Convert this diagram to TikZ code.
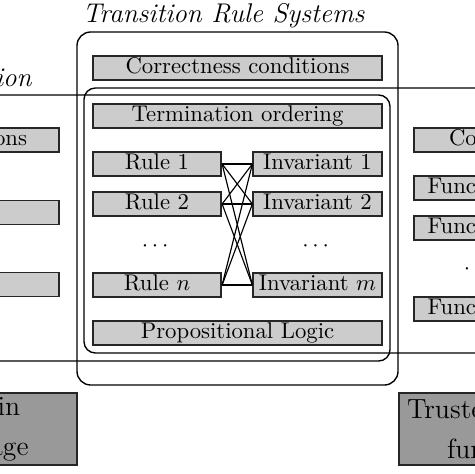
\documentclass[tikz,border=0pt]{standalone}
\usepackage{amsmath,amssymb}
\usepackage{xcolor}
\usepackage{tikz}
\usetikzlibrary{positioning}

\begin{document}
\begin{tikzpicture}[
  x=0.44pt, y=-0.44pt,
  frame/.style={line width=0.6pt, rounded corners=5pt},
  itembox/.style={rectangle, draw=black!85, line width=0.8pt, fill=gray!40, inner sep=0pt, minimum height=10.56pt, text height=7pt, text depth=2pt},
  widebox/.style={itembox, minimum width=127.2pt},
  halfbox/.style={itembox, minimum width=56.5pt},
  basebox/.style={rectangle, draw=black!85, line width=0.8pt, fill=gray!80, inner sep=0pt, minimum height=31.7pt, font=\fontsize{12.2}{17.6}\selectfont},
  heading/.style={inner sep=0pt, font=\fontsize{11.9}{14.3}\selectfont\itshape},
  link/.style={line width=0.5pt}
]
  \useasboundingbox (0,0) rectangle (474,474);
  \def\lx{157} \def\mx{237.5} \def\ix{317.5}

  \draw[frame, rounded corners=6pt] (77,32) rectangle (398,385);
  \draw[frame] (-30,95) rectangle (390,361);
  \draw[frame] (84,88) rectangle (504,353);

  \node[heading, anchor=base] (trs) at (223.5,23) {Transition Rule Systems};
  \node[heading, anchor=base east] (spec) at (32,87) {ion};

  \node[widebox] (corr) at (\mx,68) {Correctness conditions};
  \node[widebox] (term) at (\mx,116) {Termination ordering};
  \node[halfbox] (rule1) at (\lx,164) {Rule 1};
  \node[halfbox] (rule2) at (\lx,204) {Rule 2};
  \node (rdots) at (\lx,246) {$\cdots$};
  \node[halfbox] (rulen) at (\lx,285) {Rule $n$};
  \node[halfbox] (inv1) at (\ix,164) {Invariant 1};
  \node[halfbox] (inv2) at (\ix,204) {Invariant 2};
  \node (idots) at (\ix,246) {$\cdots$};
  \node[halfbox] (invm) at (\ix,285) {Invariant $m$};
  \node[widebox] (prop) at (\mx,333) {Propositional Logic};

  \draw[link] (rule1.east) -- (inv1.west);
  \draw[link] (rule1.east) -- (inv2.west);
  \draw[link] (rule1.east) -- (invm.west);
  \draw[link] (rule2.east) -- (inv1.west);
  \draw[link] (rule2.east) -- (inv2.west);
  \draw[link] (rule2.east) -- (invm.west);
  \draw[link] (rulen.east) -- (inv1.west);
  \draw[link] (rulen.east) -- (inv2.west);
  \draw[link] (rulen.east) -- (invm.west);

  \node[itembox, anchor=east, minimum width=42.7pt] (left1) at (60,140) {ons};
  \node[itembox, anchor=east, minimum width=42.7pt] (left2) at (60,212.5) {};
  \node[itembox, anchor=east, minimum width=42.7pt] (left3) at (60,284.5) {};

  \node[itembox, anchor=west, minimum width=43.1pt] (right1) at (413,140) {Co};
  \node[itembox, anchor=west, minimum width=33.4pt] (right2) at (413,188) {Func};
  \node[itembox, anchor=west, minimum width=33.4pt] (right3) at (413,228) {Func};
  \node (fdots) at (467,269) {$\cdot$};
  \node[itembox, anchor=west, minimum width=33.4pt] (right4) at (413,309) {Func};

  \node[basebox, minimum width=59.8pt, align=center] (lang) at (9,429) {in\\age};
  \node[basebox, anchor=west, inner xsep=3.6pt, align=left] (trusted) at (398,429) {Truste\\\hspace*{17.6pt}fun};
\end{tikzpicture}
\end{document}
